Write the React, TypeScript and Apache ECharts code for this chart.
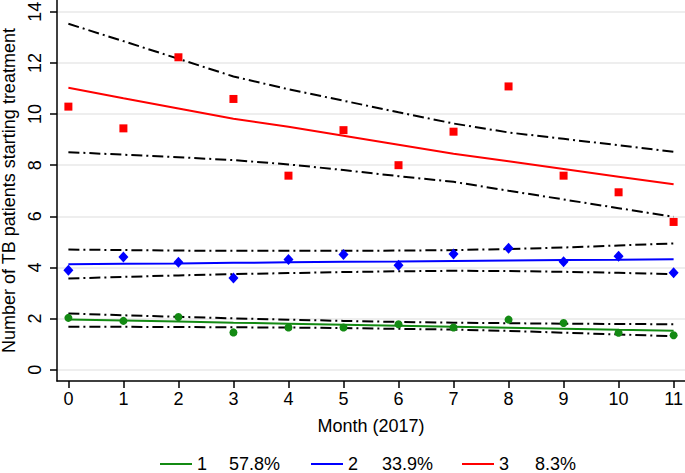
import React, { useEffect, useRef } from "react";
import * as echarts from "echarts";

const months = [0, 1, 2, 3, 4, 5, 6, 7, 8, 9, 10, 11];
const xTicks = [0, 1, 2, 3, 4, 5, 6, 7, 8, 9, 10, 11];
const yTicks = [0, 2, 4, 6, 8, 10, 12, 14];

const groupNames = ["1", "2", "3"];
const groupShares = ["57.8%", "33.9%", "8.3%"];

// observed values
const g1Obs = [2.03, 1.91, 2.06, 1.46, 1.65, 1.65, 1.78, 1.65, 1.96, 1.83, 1.45, 1.35];
const g2Obs = [3.89, 4.41, 4.2, 3.59, 4.31, 4.51, 4.09, 4.53, 4.75, 4.22, 4.44, 3.79];
const g3Obs = [10.29, 9.44, 12.22, 10.59, 7.59, 9.37, 8.0, 9.31, 11.08, 7.59, 6.94, 5.78];

// fitted trajectories
const g1Fit = [1.97, 1.93, 1.89, 1.84, 1.8, 1.76, 1.72, 1.68, 1.64, 1.6, 1.56, 1.53];
const g2Fit = [4.13, 4.15, 4.16, 4.18, 4.2, 4.22, 4.23, 4.25, 4.27, 4.29, 4.3, 4.32];
const g3Fit = [11.03, 10.62, 10.22, 9.82, 9.5, 9.15, 8.8, 8.45, 8.15, 7.85, 7.55, 7.25];

// confidence bounds
const g1Up = [2.2, 2.13, 2.07, 2.01, 1.96, 1.91, 1.87, 1.84, 1.82, 1.8, 1.79, 1.78];
const g1Lo = [1.68, 1.68, 1.67, 1.66, 1.65, 1.63, 1.6, 1.57, 1.52, 1.45, 1.38, 1.31];
const g2Up = [4.7, 4.68, 4.66, 4.65, 4.65, 4.65, 4.66, 4.68, 4.72, 4.78, 4.86, 4.94];
const g2Lo = [3.57, 3.63, 3.69, 3.74, 3.78, 3.82, 3.85, 3.87, 3.86, 3.83, 3.79, 3.74];
const g3Up = [13.53, 12.85, 12.16, 11.47, 10.97, 10.52, 10.07, 9.63, 9.28, 9.03, 8.78, 8.52];
const g3Lo = [8.51, 8.41, 8.31, 8.2, 8.03, 7.81, 7.57, 7.35, 7.0, 6.66, 6.32, 5.98];

const colors = ["#138a13", "#0000ff", "#ff0000"];
const FONT = "'Liberation Sans', Arial, sans-serif";

const pairs = (vals: number[]) => months.map((m, i) => [m, vals[i]]);

export default function App() {
  const ref = useRef<HTMLDivElement>(null);
  useEffect(() => {
    if (!ref.current) return;
    const chart = echarts.init(ref.current, undefined, { renderer: "svg" });

    const ciSeries = [g1Up, g1Lo, g2Up, g2Lo, g3Up, g3Lo].map((v, i) => ({
      type: "line",
      name: "ci" + i,
      data: pairs(v),
      showSymbol: false,
      symbol: "none",
      lineStyle: { color: "#000", width: 2, type: [11, 4, 2, 4] },
      z: 2,
    }));

    const fits = [g1Fit, g2Fit, g3Fit];
    const fitSeries = fits.map((v, i) => ({
      type: "line",
      name: groupNames[i],
      data: pairs(v),
      showSymbol: false,
      symbol: "none",
      color: colors[i],
      lineStyle: { color: colors[i], width: 2 },
      z: 3,
    }));

    const obs = [g1Obs, g2Obs, g3Obs];
    const symbols = ["circle", "diamond", "rect"];
    const sizes: any[] = [8, [10, 11], 8];
    const obsSeries = obs.map((v, i) => ({
      type: "scatter",
      name: "obs" + i,
      data: pairs(v),
      symbol: symbols[i],
      symbolSize: sizes[i],
      itemStyle: { color: colors[i], opacity: 1 },
      z: 4,
    }));

    const legendLeft = [160, 311, 462];
    const numWidth = [32, 34, 36];
    const legends = groupNames.map((n, i) => ({
      data: [n],
      left: legendLeft[i],
      top: 455,
      icon: "rect",
      itemWidth: 32,
      itemHeight: 2,
      padding: 0,
      selectedMode: false,
      textStyle: {
        fontSize: 18,
        color: "#000",
        fontFamily: FONT,
        rich: {
          a: { width: numWidth[i], fontSize: 18, color: "#000", fontFamily: FONT },
          b: { fontSize: 18, color: "#000", fontFamily: FONT },
        },
      },
      formatter: () => `{a|${n}}{b|${groupShares[i]}}`,
    }));

    chart.setOption({
      animation: false,
      backgroundColor: "#fff",
      grid: { left: 57, right: 0, top: 0, bottom: 92, containLabel: false, outerBoundsMode: "none" },
      xAxis: {
        type: "value",
        min: -0.207,
        max: 11.207,
        name: "Month (2017)",
        nameLocation: "middle",
        nameGap: 36,
        nameTextStyle: { fontSize: 18, color: "#000", fontFamily: FONT },
        axisLine: { onZero: false, lineStyle: { color: "#000", width: 1.5 } },
        axisTick: { show: true, length: 7, customValues: xTicks, lineStyle: { color: "#000", width: 1.5 } },
        axisLabel: { customValues: xTicks, fontSize: 18, color: "#000", fontFamily: FONT, margin: 9 },
        splitLine: { show: false },
      },
      yAxis: {
        type: "value",
        min: -0.44,
        max: 14.46,
        name: "Number of TB patients starting treatment",
        nameLocation: "middle",
        nameGap: 33,
        nameTextStyle: { fontSize: 18, color: "#000", fontFamily: FONT },
        axisLine: { show: true, onZero: false, lineStyle: { color: "#000", width: 1.5 } },
        axisTick: { show: true, length: 7, customValues: yTicks, lineStyle: { color: "#000", width: 1.5 } },
        axisLabel: { customValues: yTicks, rotate: 90, fontSize: 18, color: "#000", fontFamily: FONT, margin: 13 },
        splitLine: { show: true, lineStyle: { color: "#e8e8e8", width: 1.5 } },
      },
      legend: legends,
      series: [...ciSeries, ...fitSeries, ...obsSeries],
    });

    return () => chart.dispose();
  }, []);

  return (
    <div
      ref={ref}
      style={{ position: "absolute", left: 0, top: 0, width: 685, height: 473 }}
    />
  );
}
